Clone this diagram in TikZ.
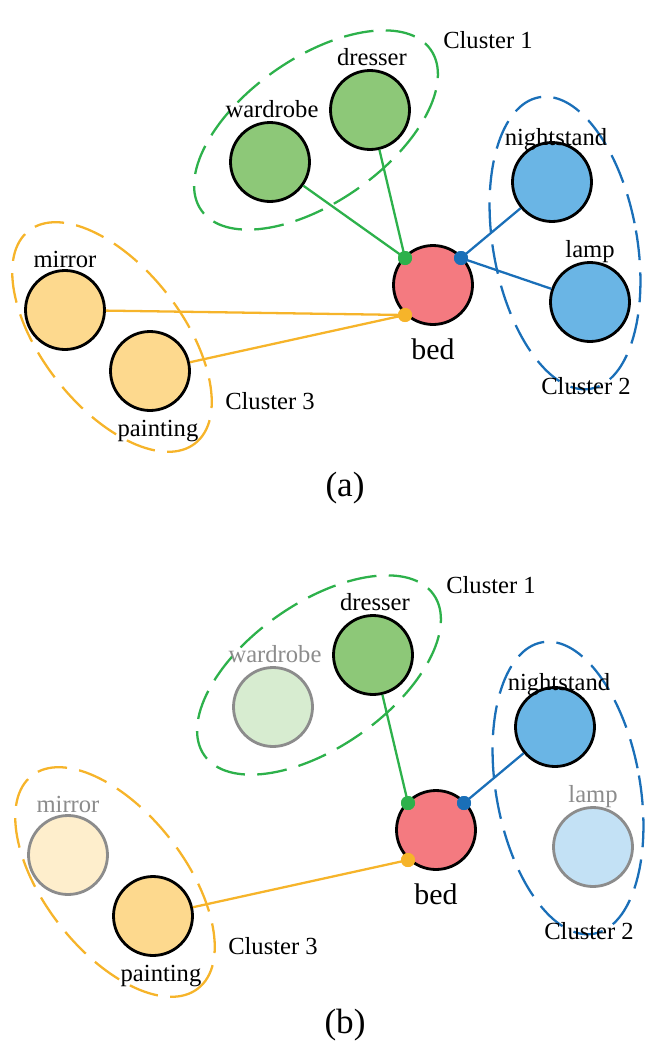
\documentclass[tikz,border=0pt]{standalone}
\usepackage{fontspec}
\setmainfont{Liberation Serif}
\begin{document}
\begin{tikzpicture}[x=0.02cm,y=-0.02cm,
  obj/.style={circle,draw=black,line width=1.6pt,minimum size=1.58cm,inner sep=0pt},
  faded/.style={circle,draw=gray!90,line width=1.6pt,minimum size=1.58cm,inner sep=0pt},
  lbl/.style={font=\fontsize{14}{16}\selectfont},
  flbl/.style={font=\fontsize{14}{16}\selectfont,text=gray!90},
  clu/.style={line width=1.3pt,dash pattern=on 17pt off 7pt},
  dot/.style={circle,inner sep=0pt,minimum size=0.28cm},
  con/.style={line width=1.3pt}]
\definecolor{gfill}{HTML}{8DC878}\definecolor{gline}{HTML}{2DB14B}
\definecolor{bfill}{HTML}{6AB5E5}\definecolor{bline}{HTML}{1A6FB8}
\definecolor{ofill}{HTML}{FDD98E}\definecolor{oline}{HTML}{F6B42A}
\definecolor{rfill}{HTML}{F47A80}
\useasboundingbox (0,0) rectangle (664,1058);
\foreach \dy/\dx/\full/\tag in {0/0/1/a,545/3/0/b}{
\begin{scope}[yshift=-\dy*0.02cm,xshift=\dx*0.02cm]
 \draw[clu,gline,rotate around={35:(316,130)}] (316,130) ellipse (140 and 72);
 \draw[clu,bline,rotate around={10:(565,243)}] (565,243) ellipse (72 and 148);
 \draw[clu,oline,rotate around={-52:(112,337)}] (112,337) ellipse (135 and 70);
 \node[lbl] (c1\tag) at (488,40) {Cluster 1};
 \node[lbl] (c2\tag) at (586,386) {Cluster 2};
 \node[lbl] (c3\tag) at (270,401) {Cluster 3};
 \node[obj,fill=gfill] (dresser\tag) at (370,110) {};
 \node[lbl] at (372,57) {dresser};
 \node[obj,fill=rfill] (bed\tag) at (433,285) {};
 \node[font=\fontsize{17}{19}\selectfont] at (433,349) {bed};
 \node[obj,fill=bfill] (night\tag) at (552,182) {};
 \node[lbl] at (556,140) {nightstand};
 \node[obj,fill=ofill] (paint\tag) at (150,371) {};
 \node[lbl] at (158,431) {painting};
 \ifnum\full=1
  \node[obj,fill=gfill] (ward\tag) at (270,162) {};
  \node[lbl] at (272,109) {wardrobe};
  \node[obj,fill=bfill] (lamp\tag) at (590,302) {};
  \node[lbl] at (590,252) {lamp};
  \node[obj,fill=ofill] (mirror\tag) at (65,310) {};
  \node[lbl] at (65,259) {mirror};
 \else
  \node[faded,fill=gfill!35] (ward\tag) at (270,162) {};
  \node[flbl] at (272,109) {wardrobe};
  \node[faded,fill=bfill!40] (lamp\tag) at (590,302) {};
  \node[flbl] at (590,252) {lamp};
  \node[faded,fill=ofill!45] (mirror\tag) at (65,310) {};
  \node[flbl] at (65,259) {mirror};
 \fi
 \node[dot,fill=gline] (gd\tag) at (405,258) {};
 \node[dot,fill=bline] (bd\tag) at (461,258) {};
 \node[dot,fill=oline] (od\tag) at (405,315) {};
 \draw[con,gline] (dresser\tag) -- (gd\tag.center);
 \draw[con,bline] (bd\tag.center) -- (night\tag);
 \draw[con,oline] (od\tag.center) -- (paint\tag);
 \ifnum\full=1
  \draw[con,gline] (ward\tag) -- (gd\tag.center);
  \draw[con,bline] (bd\tag.center) -- (lamp\tag);
  \draw[con,oline] (od\tag.center) -- (mirror\tag);
 \fi
 \node[dot,fill=gline] at (gd\tag) {};
 \node[dot,fill=bline] at (bd\tag) {};
 \node[dot,fill=oline] at (od\tag) {};
\end{scope}}
\node[font=\fontsize{20}{22}\selectfont] (ta) at (345,488) {(a)};
\node[font=\fontsize{20}{22}\selectfont] (tb) at (345,1025) {(b)};
\end{tikzpicture}
\end{document}
